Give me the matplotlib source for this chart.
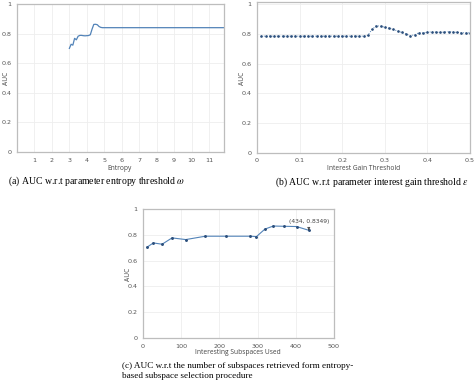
import numpy as np
import matplotlib.pyplot as plt

plt.rcParams['mathtext.fontset'] = 'stix'

# ---------------- data ----------------
# (a) entropy threshold
entropy_x = np.round(np.arange(3.0, 11.95, 0.1), 1)
entropy_auc = [
    0.700, 0.728, 0.722, 0.768, 0.758, 0.782, 0.788, 0.788, 0.786, 0.785,
    0.786, 0.787, 0.792, 0.830, 0.862, 0.863, 0.860, 0.848, 0.842, 0.840,
    0.840, 0.840, 0.840, 0.840, 0.840, 0.840, 0.840, 0.840, 0.840, 0.840,
    0.840, 0.840, 0.840, 0.840, 0.840, 0.840, 0.840, 0.840, 0.840, 0.840,
    0.840, 0.840, 0.840, 0.840, 0.840, 0.840, 0.840, 0.840, 0.840, 0.840,
    0.840, 0.840, 0.840, 0.840, 0.840, 0.840, 0.840, 0.840, 0.840, 0.840,
    0.840, 0.840, 0.840, 0.840, 0.840, 0.840, 0.840, 0.840, 0.840, 0.840,
    0.840, 0.840, 0.840, 0.840, 0.840, 0.840, 0.840, 0.840, 0.840, 0.840,
    0.840, 0.840, 0.840, 0.840, 0.840, 0.840, 0.840, 0.840, 0.840, 0.840,
]

# (b) interest gain threshold
gain_x = np.round(np.arange(0.01, 0.505, 0.01), 2)
gain_auc = [
    0.785, 0.785, 0.785, 0.785, 0.785, 0.785, 0.785, 0.785, 0.785, 0.785,
    0.785, 0.785, 0.785, 0.785, 0.785, 0.785, 0.785, 0.785, 0.785, 0.785,
    0.785, 0.785, 0.785, 0.785, 0.785, 0.790, 0.830, 0.855, 0.852, 0.845,
    0.838, 0.830, 0.820, 0.810, 0.800, 0.787, 0.795, 0.808, 0.806, 0.812,
    0.813, 0.812, 0.810, 0.812, 0.815, 0.813, 0.810, 0.808, 0.807, 0.807,
]

# (c) number of subspaces
sub_x = [11, 27, 50, 76, 112, 163, 217, 280, 297, 319, 341, 369, 402, 434]
sub_auc = [0.705, 0.737, 0.727, 0.776, 0.763, 0.789, 0.789, 0.789, 0.786,
           0.844, 0.868, 0.866, 0.864, 0.8349]

W, H = 474, 382
line_c = '#5283b8'
mark_c = '#2c4f7c'
tick_c = '#555555'
grid_c = '#eeeeee'
spine_c = '#bdbdbd'


def fx(px):
    return px / W


def fy(py):
    return 1 - py / H


def make_ax(fig, l, t, r, b):
    ax = fig.add_axes([fx(l), fy(b), fx(r) - fx(l), fy(t) - fy(b)])
    ax.grid(True, color=grid_c, lw=0.6)
    ax.set_axisbelow(True)
    for s in ax.spines.values():
        s.set_color(spine_c)
        s.set_linewidth(0.9)
    ax.tick_params(length=0, labelsize=4.6, colors=tick_c, pad=4)
    ax.set_ylim(0, 1)
    ax.set_yticks([0, 0.2, 0.4, 0.6, 0.8, 1])
    ax.set_yticklabels(['0', '0.2', '0.4', '0.6', '0.8', '1'])
    return ax


fig = plt.figure(figsize=(W / 100, H / 100), dpi=100)
label_kw = dict(fontsize=4.8, color='#444444', family='Open Sans')
cap_kw = dict(fontsize=7.0, family='Liberation Serif', color='black')

# ---- (a) ----
ax1 = make_ax(fig, 17, 4, 224, 152)
ax1.plot(entropy_x, entropy_auc, color=line_c, lw=0.9)
ax1.set_xlim(0, 11.86)
ax1.set_xticks(range(1, 12))
fig.text(fx(6), fy(78), 'AUC', rotation=90, ha='center', va='center', **label_kw)
fig.text(fx(120), fy(168), 'Entropy', ha='center', va='center', **label_kw)
fig.text(fx(8), fy(181), '(a) AUC w.r.t parameter entropy threshold $\\omega$',
         ha='left', va='center', **cap_kw)

# ---- (b) ----
ax2 = make_ax(fig, 257, 2, 470, 152.7)
ax2.set_ylim(0, 1.015)
ax2.plot(gain_x, gain_auc, color=line_c, lw=0.7, ls=':',
         marker='o', ms=0.9, mfc=mark_c, mec=mark_c)
ax2.set_xlim(0, 0.5)
ax2.set_xticks([0, 0.1, 0.2, 0.3, 0.4, 0.5])
ax2.set_xticklabels(['0', '0.1', '0.2', '0.3', '0.4', '0.5'])
fig.text(fx(243), fy(78), 'AUC', rotation=90, ha='center', va='center', **label_kw)
fig.text(fx(364), fy(169), 'Interest Gain Threshold', ha='center', va='center', **label_kw)
fig.text(fx(275), fy(182), '(b) AUC w.r.t parameter interest gain threshold $\\epsilon$',
         ha='left', va='center', **cap_kw)

# ---- (c) ----
ax3 = make_ax(fig, 143, 209, 334, 338)
ax3.plot(sub_x, sub_auc, color=line_c, lw=0.8,
         marker='o', ms=1.1, mfc=mark_c, mec=mark_c)
ax3.set_xlim(0, 500)
ax3.set_xticks([0, 100, 200, 300, 400, 500])
ax3.annotate('(434, 0.8349)', xy=(sub_x[-1], sub_auc[-1]), xytext=(434, 0.905),
             fontsize=4.3, color='#444444', ha='center', va='center',
             arrowprops=dict(arrowstyle='-|>', color='#444444', lw=0.5,
                             mutation_scale=4, shrinkA=2, shrinkB=0))
fig.text(fx(129), fy(274), 'AUC', rotation=90, ha='center', va='center', **label_kw)
fig.text(fx(238), fy(352), 'Interesting Subspaces Used', ha='center', va='center', **label_kw)
fig.text(fx(122), fy(366), '(c) AUC w.r.t the number of subspaces retrieved form entropy-',
         ha='left', va='center', fontsize=6.6, family='Liberation Serif', color='black')
fig.text(fx(122), fy(376), 'based subspace selection procedure',
         ha='left', va='center', fontsize=6.6, family='Liberation Serif', color='black')

fig.savefig('out.png', dpi=100)
